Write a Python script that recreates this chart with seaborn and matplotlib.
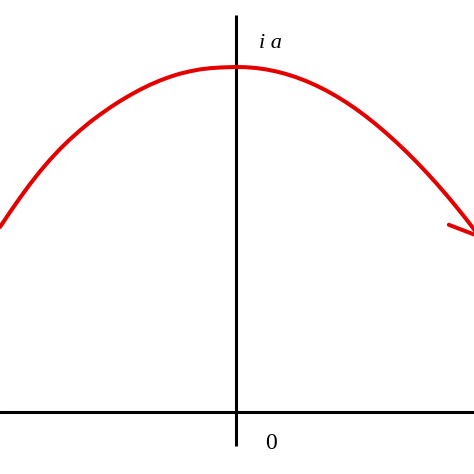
import matplotlib
matplotlib.use("Agg")
import matplotlib.pyplot as plt
import seaborn as sns
import pandas as pd

sns.set_theme(style="white")
plt.rcParams['font.family'] = ['Liberation Serif', 'DejaVu Serif']

# curve samples (x relative to the vertical axis, y above the horizontal axis)
curve_x = [-236, -226, -216, -206, -196, -186, -176, -166, -156, -146, -136, -126, -116,
           -106, -96, -86, -76, -66, -56, -46, -36, -26, -16, 0,
           10, 20, 30, 40, 50, 60, 70, 80, 90, 100, 110, 120, 130, 140, 150, 160,
           170, 180, 190, 200, 210, 220, 230, 240, 246]
curve_y = [185.0, 199.9, 214.2, 227.9, 240.6, 252.3, 263.0, 272.7, 281.6, 289.9, 297.4,
           304.4, 310.9, 316.8, 322.3, 327.2, 331.5, 335.2, 338.3, 340.7, 342.6, 343.8,
           344.5, 345.0,
           344.8, 344.0, 342.6, 340.6, 338.0, 334.8, 331.0, 326.6, 321.6, 316.0, 309.8,
           303.0, 295.6, 287.6, 279.1, 270.1, 260.6, 250.6, 240.1, 229.1, 217.6, 205.6,
           193.1, 180.1, 172.3]
axis_label = "i a"
origin_label = "0"

df = pd.DataFrame({"x": curve_x, "y": curve_y})
red = "#e50000"

fig = plt.figure(figsize=(4.74, 4.74), dpi=100)
ax = fig.add_axes([0, 0, 1, 1])

ax.axhline(0, color="black", lw=2.2, zorder=1)
ax.plot([0, 0], [-34, 397], color="black", lw=2.2, zorder=1, solid_capstyle="butt")

sns.lineplot(data=df, x="x", y="y", color=red, lw=2.9, ax=ax, sort=False,
             estimator=None, zorder=3, solid_joinstyle="round", solid_capstyle="round")
ax.annotate("", xy=(curve_x[-1], curve_y[-1]), xytext=(curve_x[-2], curve_y[-2]),
            annotation_clip=False,
            arrowprops=dict(arrowstyle="->,head_length=2.03,head_width=1.24",
                            mutation_scale=10, color=red, lw=2.9,
                            shrinkA=0, shrinkB=0))

ax.text(34, 364, axis_label, fontsize=16, style="italic", ha="center", va="baseline",
        color="black")
ax.text(35, -31.5, origin_label, fontsize=17, ha="center", va="center", color="black")

ax.set_xlim(-236, 238)
ax.set_ylim(-62, 412)
ax.axis("off")
fig.savefig("out.png", dpi=100)
